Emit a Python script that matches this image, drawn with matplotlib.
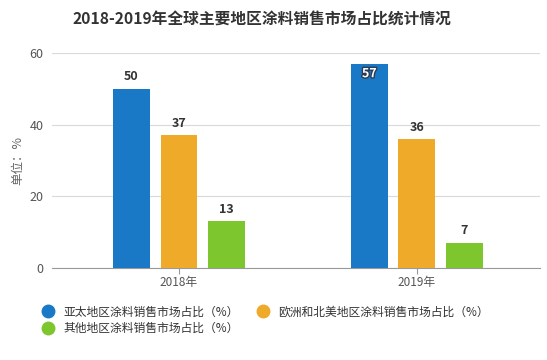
import matplotlib
matplotlib.use("Agg")
import matplotlib.pyplot as plt
import matplotlib.patheffects as pe
from matplotlib.lines import Line2D

plt.rcParams['font.family'] = ['Noto Sans CJK SC', 'DejaVu Sans']

categories = ['2018年', '2019年']
series_names = ['亚太地区涂料销售市场占比（%）', '欧洲和北美地区涂料销售市场占比（%）', '其他地区涂料销售市场占比（%）']
asia = [50, 57]
eu_na = [37, 36]
other = [13, 7]
yticks = [0, 20, 40, 60]
colors = ['#1a79c6', '#f0aa2a', '#7dc62e']

fig = plt.figure(figsize=(5.47, 3.6), dpi=100)
ax = fig.add_axes([0.095, 0.256, 0.892, 0.597])

series = [asia, eu_na, other]
offsets = [-0.2, 0, 0.2]
w = 0.155
for vals, off, c in zip(series, offsets, colors):
    xs = [i + off for i in range(len(categories))]
    ax.bar(xs, vals, width=w, color=c, zorder=3)
    for x, v in zip(xs, vals):
        if v + 3 >= 60:
            t = ax.text(x, v - 1.0, f'{v}', ha='center', va='top', fontsize=9,
                        fontweight='bold', color='white', zorder=4)
            t.set_path_effects([pe.withStroke(linewidth=2, foreground='#2a3a55')])
        else:
            ax.text(x, v + 1.5, f'{v}', ha='center', va='bottom', fontsize=9,
                    fontweight='bold', color='#333333', zorder=4)

ax.set_xlim(-0.534, 1.517)
ax.set_ylim(0, 60)
ax.set_yticks(yticks)
ax.set_yticklabels([str(t) for t in yticks], fontsize=9, color='#555555')
ax.set_xticks(range(len(categories)))
ax.set_xticklabels(categories, fontsize=8.5, color='#555555')
ax.grid(axis='y', color='#d9d9d9', linewidth=0.8, zorder=0)
for s in ['top', 'right', 'left']:
    ax.spines[s].set_visible(False)
ax.spines['bottom'].set_color('#999999')
ax.tick_params(axis='y', length=0, pad=6)
ax.tick_params(axis='x', length=4, color='#999999', pad=2)
ax.set_ylabel('单位：%', fontsize=9, color='#666666', labelpad=4)

fig.text(0.478, 0.945, '2018-2019年全球主要地区涂料销售市场占比统计情况', ha='center', va='center',
         fontsize=11.3, fontweight='bold', color='#333333')

handles = [Line2D([0], [0], marker='o', linestyle='', markersize=9, color=c) for c in colors]
order = [0, 2, 1]
leg = fig.legend([handles[i] for i in order], [series_names[i] for i in order],
                 loc='upper left', bbox_to_anchor=(0.058, 0.165),
                 ncol=2, frameon=False, fontsize=8.5, handletextpad=0.3,
                 columnspacing=1.0, labelspacing=0.3, borderaxespad=0)
for t in leg.get_texts():
    t.set_color('#333333')

fig.savefig('out.png', dpi=100)
